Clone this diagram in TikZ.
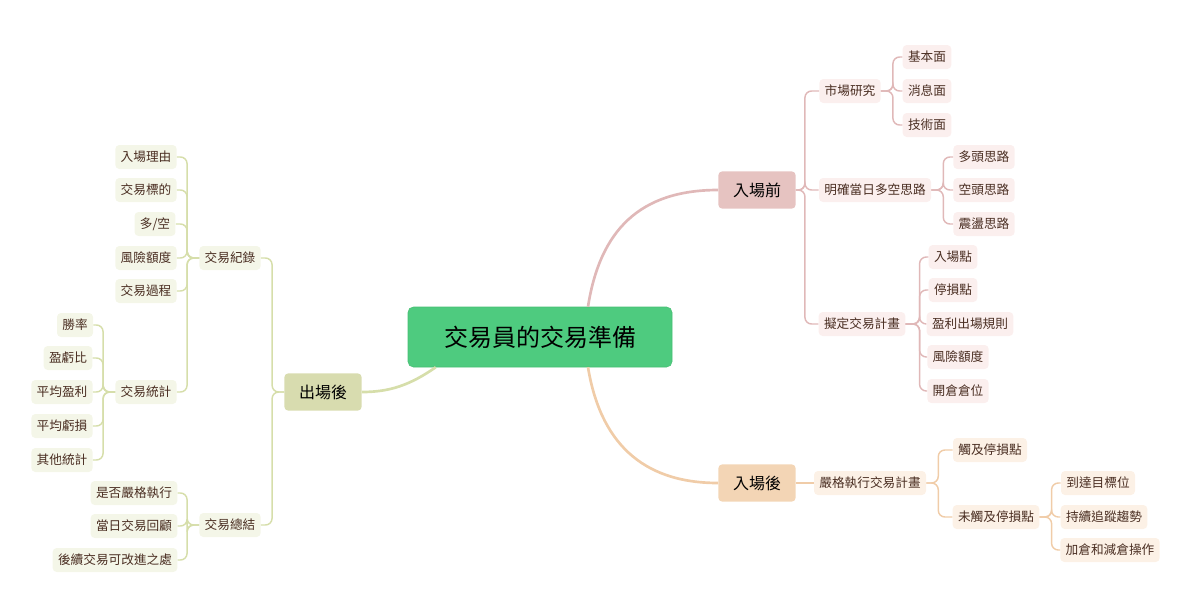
\documentclass[tikz,border=0pt]{standalone}
\usepackage{fontspec}
\setmainfont{Noto Sans CJK TC}
\usetikzlibrary{calc}
\definecolor{pkL}{HTML}{E0B8B8}\definecolor{pkF}{HTML}{FBEFEE}\definecolor{pkM}{HTML}{E6C3C1}
\definecolor{orL}{HTML}{F0CCA8}\definecolor{orF}{HTML}{FCF1E6}\definecolor{orM}{HTML}{F3D5B5}
\definecolor{grL}{HTML}{D6DEAA}\definecolor{grF}{HTML}{F4F6E8}\definecolor{grM}{HTML}{D8DCAF}
\definecolor{cF}{HTML}{4ECB7F}\definecolor{cD}{HTML}{46BE73}
\definecolor{txt}{HTML}{4A2E22}
\tikzset{
 leaf/.style={rounded corners=3pt,inner xsep=4pt,minimum height=18pt,font=\fontsize{9.5}{11}\selectfont,text=txt},
 mainbox/.style={rounded corners=3pt,minimum width=58pt,minimum height=28pt,font=\fontsize{12}{14}\selectfont,text=black},
 br/.style={line width=1.1pt,rounded corners=5pt},
}
\begin{document}
\begin{tikzpicture}[x=0.75pt,y=-0.75pt]
\useasboundingbox (0,0) rectangle (1200,593);
\node[rounded corners=4pt,minimum width=198pt,minimum height=45pt,fill=cF,draw=cD,font=\fontsize{18}{20}\selectfont] (c) at (540,337) {交易員的交易準備};
\node[mainbox,fill=pkM] (a) at (757,190) {入場前};
\node[mainbox,fill=orM] (b) at (757,483) {入場後};
\node[mainbox,fill=grM] (d) at (323,392) {出場後};
\draw[pkL,line width=2pt] ($(c.north)+(48,0)$) .. controls (600,230) and (640,190) .. (a.west);
\draw[orL,line width=2pt] ($(c.south)+(48,0)$) .. controls (600,440) and (640,483) .. (b.west);
\draw[grL,line width=2pt] ($(c.south west)+(28,0)$) .. controls (410,385) and (390,392) .. (d.east);
% pink
\begin{scope}[every node/.style={leaf,fill=pkF}]
\node (a1) at (850,91) {市場研究};
\node (a2) at (875,190) {明確當日多空思路};
\node (a3) at (862,324) {擬定交易計畫};
\node (a11) at (927,57) {基本面};\node (a12) at (927,91) {消息面};\node (a13) at (927,125) {技術面};
\node (a21) at (984,157) {多頭思路};\node (a22) at (984,190) {空頭思路};\node (a23) at (984,224) {震盪思路};
\node (a31) at (953,257) {入場點};\node (a32) at (953,290) {停損點};\node (a33) at (970,324) {盈利出場規則};
\node (a34) at (958,357) {風險額度};\node (a35) at (958,391) {開倉倉位};
\end{scope}
\begin{scope}[pkL,br]
\foreach \x in {a1,a2,a3} \draw (a.east) -- ++(9,0) |- (\x.west);
\foreach \x in {a11,a12,a13} \draw (a1.east) -- ++(12,0) |- (\x.west);
\foreach \x in {a21,a22,a23} \draw (a2.east) -- ++(12,0) |- (\x.west);
\foreach \x in {a31,a32,a33,a34,a35} \draw (a3.east) -- ++(14,0) |- (\x.west);
\end{scope}
% orange
\begin{scope}[every node/.style={leaf,fill=orF}]
\node (b1) at (870,483) {嚴格執行交易計畫};
\node (b11) at (990,450) {觸及停損點};\node (b12) at (996,517) {未觸及停損點};
\node (b121) at (1098,483) {到達目標位};\node (b122) at (1104,517) {持續追蹤趨勢};\node (b123) at (1110,550) {加倉和減倉操作};
\end{scope}
\begin{scope}[orL,br]
\draw (b.east) -- (b1.west);
\foreach \x in {b11,b12} \draw (b1.east) -- ++(12,0) |- (\x.west);
\foreach \x in {b121,b122,b123} \draw (b12.east) -- ++(12,0) |- (\x.west);
\end{scope}
% green
\begin{scope}[every node/.style={leaf,fill=grF}]
\node (d1) at (230,258) {交易紀錄};\node (d2) at (230,525) {交易總結};
\node (d11) at (146,157) {入場理由};\node (d12) at (146,190) {交易標的};\node (d13) at (155,224) {多/空};
\node (d14) at (146,258) {風險額度};\node (d15) at (146,291) {交易過程};\node (d16) at (146,392) {交易統計};
\node (d161) at (75,325) {勝率};\node (d162) at (68,358) {盈虧比};\node (d163) at (62,392) {平均盈利};
\node (d164) at (62,426) {平均虧損};\node (d165) at (62,460) {其他統計};
\node (d21) at (134,493) {是否嚴格執行};\node (d22) at (134,526) {當日交易回顧};\node (d23) at (115,560) {後續交易可改進之處};
\end{scope}
\begin{scope}[grL,br]
\foreach \x in {d1,d2} \draw (d.west) -- ++(-12,0) |- (\x.east);
\foreach \x in {d11,d12,d13,d14,d15,d16} \draw (d1.west) -- ++(-12,0) |- (\x.east);
\foreach \x in {d161,d162,d163,d164,d165} \draw (d16.west) -- ++(-12,0) |- (\x.east);
\foreach \x in {d21,d22,d23} \draw (d2.west) -- ++(-12,0) |- (\x.east);
\end{scope}
\end{tikzpicture}
\end{document}
